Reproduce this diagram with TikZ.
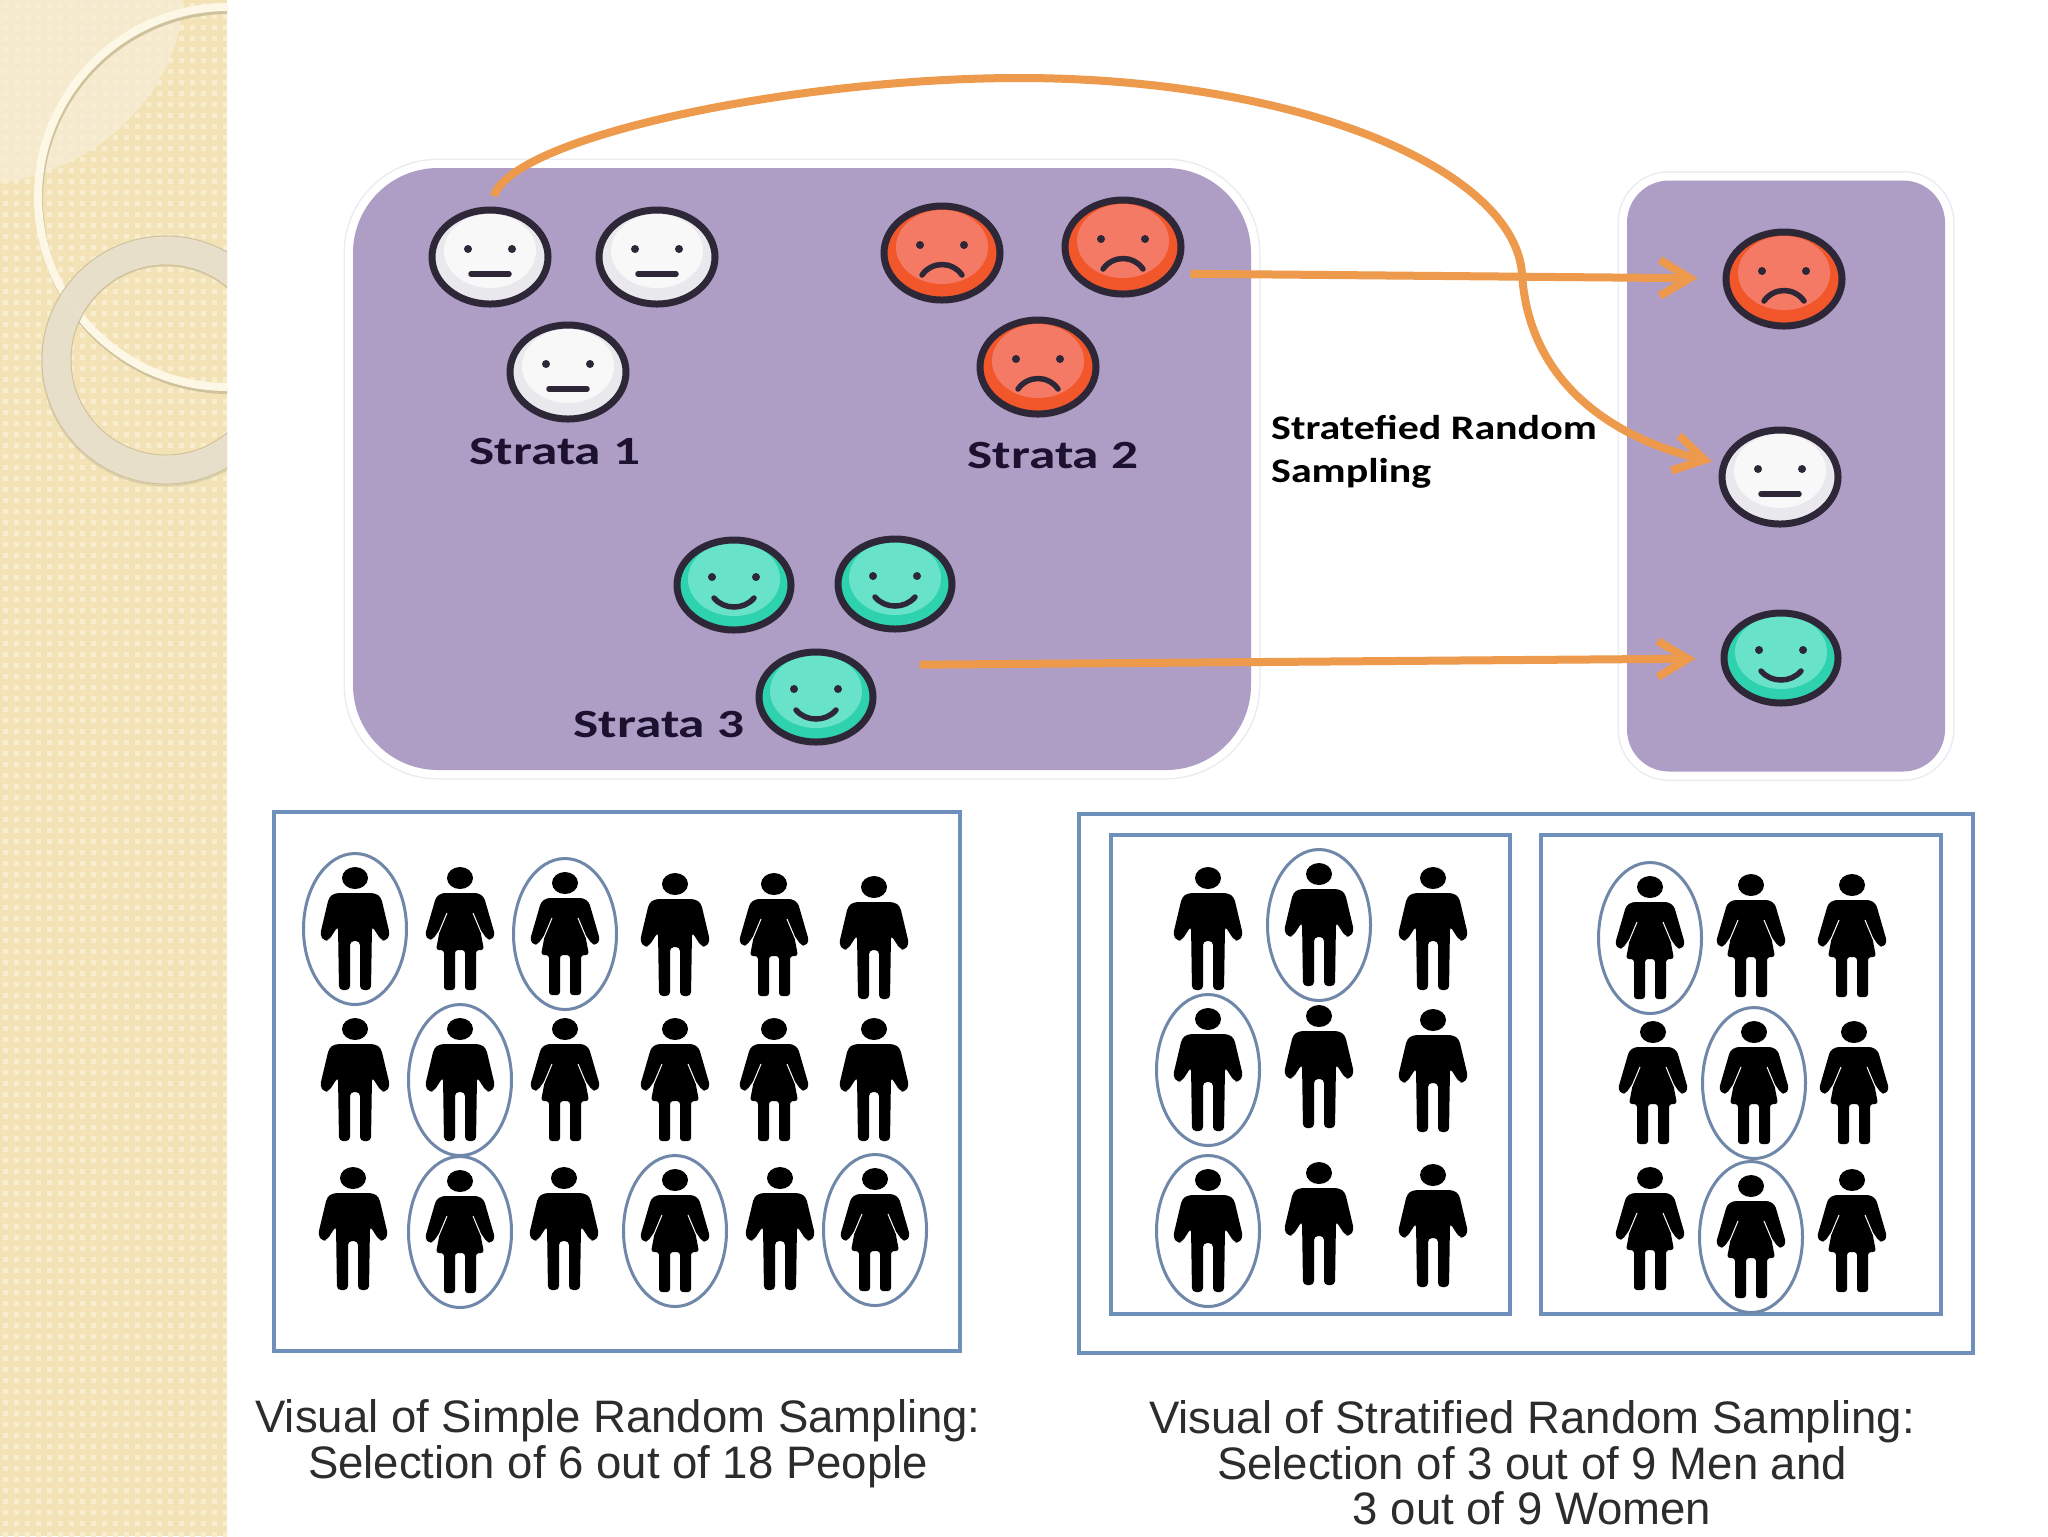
\documentclass[tikz,border=0pt]{standalone}
\usepackage{fontspec}
\setmainfont{Liberation Sans}
\newfontfamily\StrataFont{Carlito}
\usetikzlibrary{arrows.meta,shapes.geometric}

\definecolor{SideBase}{HTML}{F3E2B5}
\definecolor{SideDot}{HTML}{F8EDCF}
\definecolor{SideLeaf}{HTML}{F6EDD3}
\definecolor{SideRing}{HTML}{E8E1CD}
\definecolor{SideLine}{HTML}{FDF8E6}
\definecolor{SideShade}{HTML}{CFC29C}
\definecolor{PanelFill}{HTML}{AE9EC6}
\definecolor{PanelRim}{HTML}{ECEBF1}
\definecolor{FlowOrange}{HTML}{EE9A4D}
\definecolor{FaceLine}{HTML}{2E2738}
\definecolor{SadBase}{HTML}{F2572B}
\definecolor{SadTop}{HTML}{F47A66}
\definecolor{FlatBase}{HTML}{E9E9ED}
\definecolor{FlatTop}{HTML}{F8F8F9}
\definecolor{GladBase}{HTML}{2FD2AE}
\definecolor{GladTop}{HTML}{68E3CA}
\definecolor{FrameBlue}{HTML}{7090BC}
\definecolor{RingBlue}{HTML}{6F87A8}
\definecolor{StrataInk}{HTML}{1C1230}
\definecolor{CaptionInk}{HTML}{2C2C2C}

\newcommand{\FaceMarks}[2]{\begin{scope}[shift={(path picture bounding box.center)}]
    \fill[#1] (0,-6) ellipse (46 and 37);
    \fill[FaceLine] (-22,-8) circle (4) (22,-8) circle (4);
    \draw[FaceLine, line width=0.55mm, line cap=round] #2;
\end{scope}}

\tikzset{
    Face/.style={ellipse, draw=FaceLine, line width=0.7mm, fill=#1, minimum width=11.6mm, minimum height=9.4mm, inner sep=0pt},
    Sad/.style={Face=SadBase, path picture={\FaceMarks{SadTop}{(-20,22) .. controls (-10,8) and (10,8) .. (20,22)}}},
    Flat/.style={Face=FlatBase, path picture={\FaceMarks{FlatTop}{(-19,17) -- (19,17)}}},
    Glad/.style={Face=GladBase, minimum width=11.4mm, minimum height=9mm, path picture={\FaceMarks{GladTop}{(-20,13) .. controls (-10,25) and (10,25) .. (20,13)}}},
    Panel/.style={rectangle, fill=PanelFill, inner sep=0pt, preaction={draw=PanelRim, line width=1.9mm}, preaction={draw=white, line width=1.6mm}},
    Flow/.style={draw=FlowOrange, line width=0.8mm, -{Straight Barb[length=3mm,width=3.6mm]}},
    Frame/.style={rectangle, draw=FrameBlue, line width=0.35mm, inner sep=0pt},
    Person/.style={ellipse, inner sep=0pt, minimum width=10.3mm, minimum height=15.1mm},
    Picked/.style={draw=RingBlue, line width=0.3mm},
    Man/.style={Person, path picture={\begin{scope}[shift={(path picture bounding box.center)}]
        \fill (0,-51) ellipse (13 and 11);
        \fill[rounded corners=0.4mm] (-20,-36) -- (20,-36) -- (26,-32) -- (35,6) -- (31,12) -- (26,11) -- (17,-3) -- (16,61) -- (5,61) -- (5,12) -- (-5,12) -- (-5,61) -- (-16,61) -- (-17,-3) -- (-26,11) -- (-31,12) -- (-35,6) -- (-26,-32) -- cycle;
    \end{scope}}},
    Woman/.style={Person, path picture={\begin{scope}[shift={(path picture bounding box.center)}]
        \fill (0,-51) ellipse (13 and 11);
        \fill[rounded corners=0.3mm] (-18,-36) -- (18,-36) -- (24,-32) -- (35,6) -- (31,11) -- (27,10) -- (20,0) -- (24,21) -- (16,21) -- (16,61) -- (5,61) -- (5,21) -- (-5,21) -- (-5,61) -- (-16,61) -- (-16,21) -- (-24,21) -- (-20,0) -- (-27,10) -- (-31,11) -- (-35,6) -- (-24,-32) -- cycle;
        \draw[white, line width=0.1mm] (13,-16) -- (21,3) (-13,-16) -- (-21,3);
    \end{scope}}},
    StrataTag/.style={font=\StrataFont\bfseries\fontsize{11.4}{13.5}\selectfont, text=StrataInk, inner sep=0pt, xscale=1.33, transform shape},
    Caption/.style={font=\fontsize{12.95}{13}\selectfont, text=CaptionInk, align=center, inner sep=0pt}
}

\begin{document}
\begin{tikzpicture}[x=0.1mm, y=-0.1mm]
    \useasboundingbox (0,0) rectangle (2048,1536);
    \fill[white] (0,0) rectangle (2048,1536);

    % side strip
    \begin{scope}
        \clip (0,0) rectangle (227,1536);
        \fill[SideBase] (0,0) rectangle (227,1536);
        \fill[SideDot] \foreach \i in {0,...,20} {\foreach \j in {0,...,139} {(\i*11+3,\j*11+3) rectangle ++(5,5)}};
        \fill[SideLeaf, fill opacity=0.8] (0,0) -- (183,0) .. controls (180,90) and (100,170) .. (0,183) -- cycle;
        \draw[SideShade, line width=0.8mm] (229,200) circle (190);
        \draw[SideLine, line width=0.8mm] (228,197) circle (190);
        \draw[SideShade, line width=2.9mm, opacity=0.6] (166,362) circle (110);
        \draw[SideRing, line width=2.9mm, opacity=0.92] (166,360) circle (110);
        \draw[SideShade, line width=0.1mm] (166,360) circle (124) (166,360) circle (95);
    \end{scope}

    \node[Panel, minimum width=89.8mm, minimum height=60.2mm, rounded corners=8.5mm](Pool) at (802,469) {};
    \node[Panel, minimum width=31.8mm, minimum height=59.1mm, rounded corners=4.2mm](Sample) at (1786,476) {};

    \node[Flat](Flat1) at (490,257) {};
    \node[Flat](Flat2) at (657,257) {};
    \node[Flat](Flat3) at (568,372) {};
    \node[Sad](Sad1) at (942,253) {};
    \node[Sad](Sad2) at (1123,247) {};
    \node[Sad](Sad3) at (1038,367) {};
    \node[Glad](Glad1) at (734,585) {};
    \node[Glad](Glad2) at (895,584) {};
    \node[Glad](Glad3) at (816,697) {};
    \node[Sad](Sad4) at (1784,279) {};
    \node[Flat](Flat4) at (1780,477) {};
    \node[Glad](Glad4) at (1781,658) {};

    \draw[Flow, shorten <=1.5mm, shorten >=2.5mm] (Sad2.-27) -- (Sad4);
    \draw[Flow, shorten <=5.8mm, shorten >=2.5mm] (Glad3.35) -- (Glad4);
    \draw[Flow, shorten <=1.1mm, shorten >=0.9mm] (Flat1.north) .. controls (515,135) and (800,78) .. (1019,78)
        .. controls (1300,78) and (1515,170) .. (1522,274)
        .. controls (1530,400) and (1640,445) .. (Flat4);

    \node[StrataTag](Tag1) at (555,451) {Strata 1};
    \node[StrataTag](Tag2) at (1053,455) {Strata 2};
    \node[StrataTag](Tag3) at (659,724) {Strata 3};
    \node[StrataTag, xscale=0.915, font=\StrataFont\bfseries\fontsize{9.8}{12.2}\selectfont, text=black, align=left](Method) at (1434,452) {Stratefied Random\\Sampling};

    \node[Frame, minimum width=68.6mm, minimum height=53.9mm](SimpleBox) at (617,1081.5) {};
    \node[Frame, minimum width=89.4mm, minimum height=53.9mm](StratBox) at (1526,1083.5) {};
    \node[Frame, minimum width=39.9mm, minimum height=47.9mm](MenBox) at (1310.5,1074.5) {};
    \node[Frame, minimum width=40mm, minimum height=47.9mm](WomenBox) at (1741,1074.5) {};

    % simple sample
    \node[Man, Picked](S01) at (355,929) {};
    \node[Woman](S02) at (460,929) {};
    \node[Woman, Picked](S03) at (565,934) {};
    \node[Man](S04) at (675,935) {};
    \node[Woman](S05) at (774,935) {};
    \node[Man](S06) at (874,938) {};
    \node[Man](S07) at (355,1080) {};
    \node[Man, Picked](S08) at (460,1080) {};
    \node[Woman](S09) at (565,1080) {};
    \node[Woman](S10) at (675,1080) {};
    \node[Woman](S11) at (774,1080) {};
    \node[Man](S12) at (874,1080) {};
    \node[Man](S13) at (353,1229) {};
    \node[Woman, Picked](S14) at (460,1232) {};
    \node[Man](S15) at (564,1229) {};
    \node[Woman, Picked](S16) at (675,1231) {};
    \node[Man](S17) at (780,1229) {};
    \node[Woman, Picked](S18) at (875,1230) {};

    % men
    \node[Man](M01) at (1208,929) {};
    \node[Man, Picked](M02) at (1319,925) {};
    \node[Man](M03) at (1433,929) {};
    \node[Man, Picked](M04) at (1208,1070) {};
    \node[Man](M05) at (1319,1067) {};
    \node[Man](M06) at (1433,1071) {};
    \node[Man, Picked](M07) at (1208,1231) {};
    \node[Man](M08) at (1319,1224) {};
    \node[Man](M09) at (1433,1226) {};

    % women
    \node[Woman, Picked](W01) at (1650,938) {};
    \node[Woman](W02) at (1751,936) {};
    \node[Woman](W03) at (1852,936) {};
    \node[Woman](W04) at (1653,1083) {};
    \node[Woman, Picked](W05) at (1754,1083) {};
    \node[Woman](W06) at (1854,1083) {};
    \node[Woman](W07) at (1650,1229) {};
    \node[Woman, Picked](W08) at (1751,1237) {};
    \node[Woman](W09) at (1852,1231) {};

    \node[Caption](SimpleText) at (618,1444) {Visual of Simple Random Sampling:\\Selection of 6 out of 18 People};
    \node[Caption](StratText) at (1532,1463) {Visual of Stratified Random Sampling:\\Selection of 3 out of 9 Men and\\3 out of 9 Women};
\end{tikzpicture}
\end{document}
